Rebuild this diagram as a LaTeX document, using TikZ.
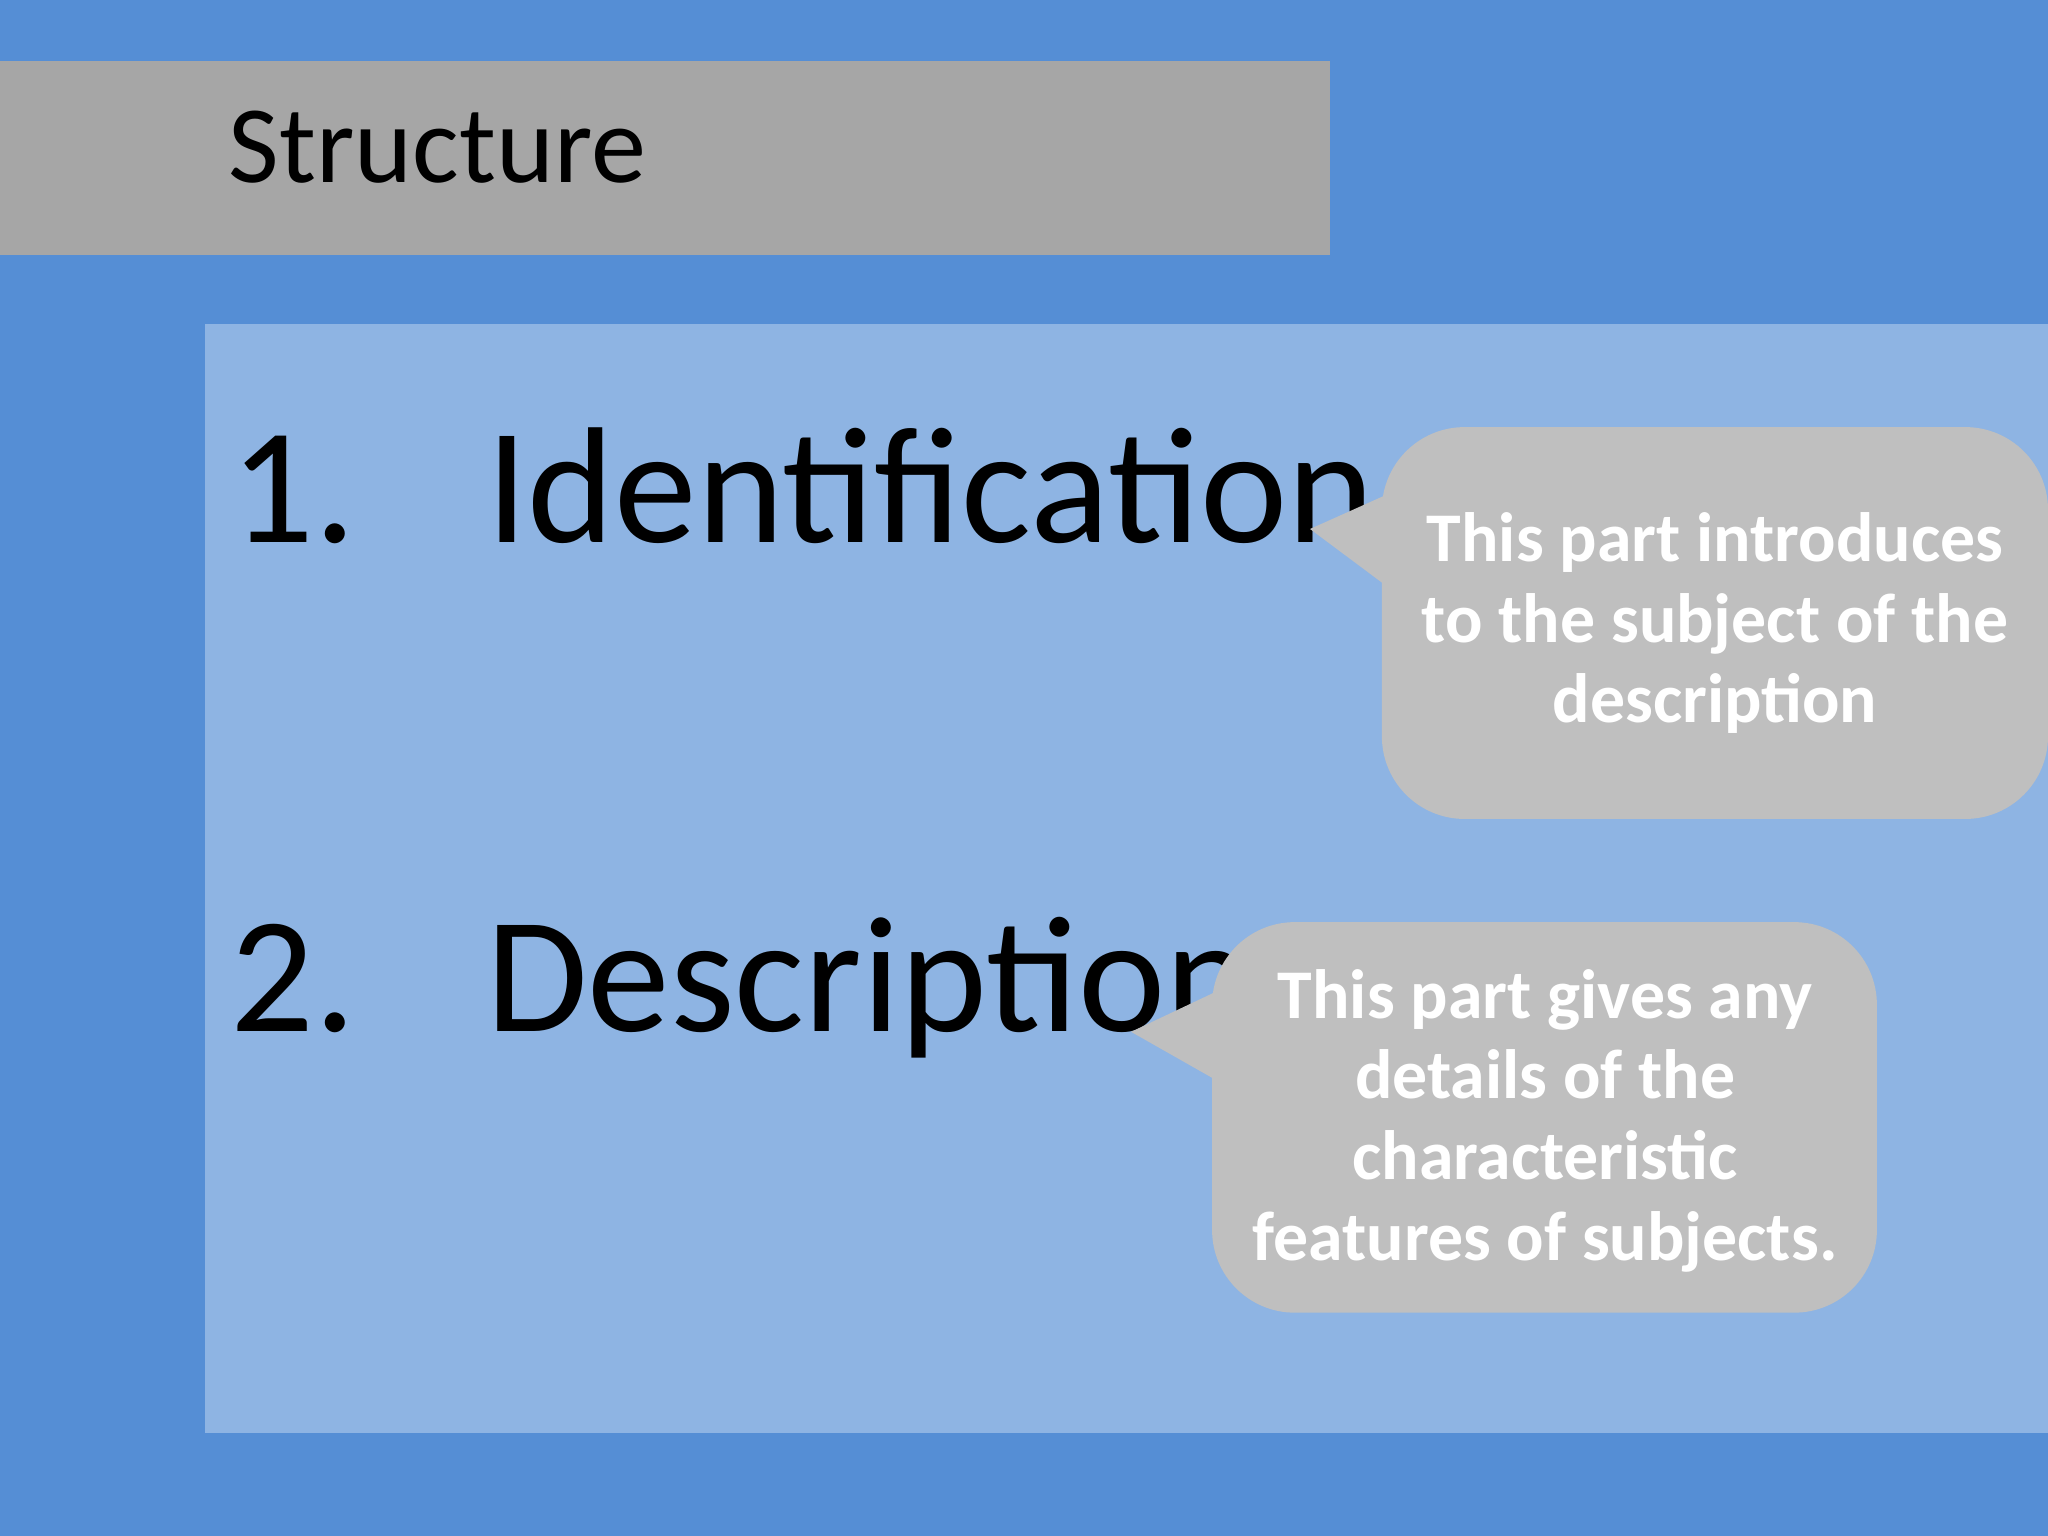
\documentclass[tikz,border=0pt]{standalone}
\usepackage{fontspec}
\setmainfont{Carlito}
\definecolor{bgblue}{HTML}{558ED5}
\definecolor{panel}{HTML}{8EB4E3}
\definecolor{hdr}{HTML}{A6A6A6}
\definecolor{callg}{HTML}{BFBFBF}
\tikzset{
  calltext/.style={font=\fontsize{38}{44}\selectfont\bfseries, text=white, align=center},
  bigtext/.style={font=\fontsize{90}{100}\selectfont, anchor=base west, inner sep=0pt},
  callbox/.style={fill=callg, rounded corners=45}
}
\begin{document}
\begin{tikzpicture}[x=0.025cm,y=-0.025cm]
\useasboundingbox (0,0) rectangle (1568,1176);
\fill[bgblue] (0,0) rectangle (1568,1176);
\fill[hdr] (0,47) rectangle (1018,195);
\node[anchor=base west, inner sep=0pt, font=\fontsize{60}{70}\selectfont] (title) at (175,140) {Structure};
\fill[panel] (157,248) rectangle (1568,1097);
\node[bigtext] (n1) at (176,415) {1.};
\node[bigtext] (t1) at (372,415) {Identification};
\node[bigtext] (n2) at (176,790) {2.};
\node[bigtext] (t2) at (372,790) {Description};
% callout 1
\fill[callg] (1003,405) -- (1070,375) -- (1070,455) -- cycle;
\fill[callbox] (1058,327) rectangle (1568,627);
\node[calltext] (c1) at (1313,477) {This part introduces\\to the subject of the\\description};
% callout 2
\fill[callg] (866,790) -- (940,755) -- (940,832) -- cycle;
\fill[callbox] (928,706) rectangle (1437,1005);
\node[calltext] (c2) at (1183,858) {This part gives any\\details of the\\characteristic\\features of subjects.};
\end{tikzpicture}
\end{document}
